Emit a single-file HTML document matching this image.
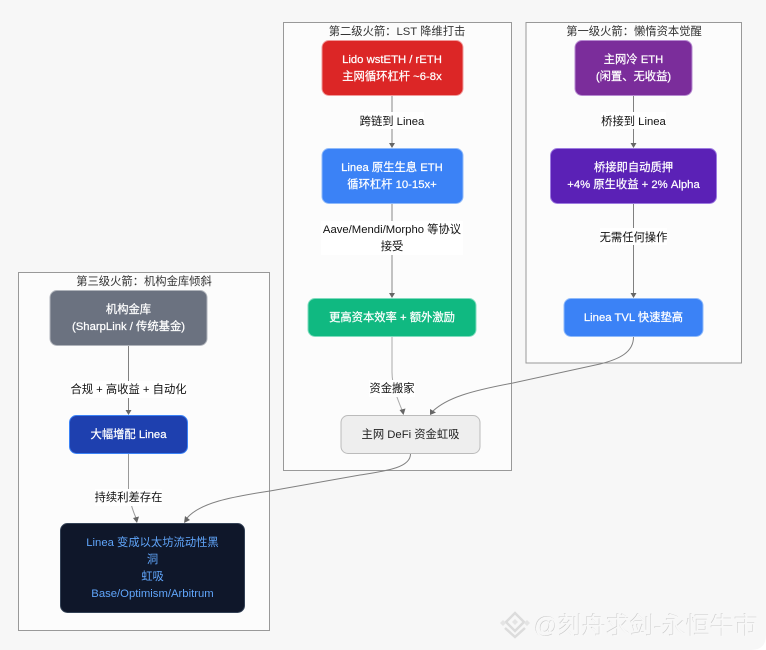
<!DOCTYPE html>
<html lang="zh">
<head>
<meta charset="utf-8">
<title>Linea</title>
<style>
html,body{margin:0;padding:0;background:#fff;width:766px;height:650px;overflow:hidden}
svg{display:block;position:absolute;left:0;top:0}
text{font-family:"Liberation Sans","Noto Sans CJK SC",sans-serif;font-size:11.3px;text-anchor:middle}
.t{fill:#333}
.w{fill:#fff;stroke:#fff;stroke-width:.22}
.l{fill:#111}
.c{fill:#fcfcfc;stroke:#999;stroke-width:1}
.e{fill:none;stroke:#808080;stroke-width:1}
.e2{fill:none;stroke:#c2c2c2;stroke-width:2}
.a{fill:#666}
.wm{font-size:24px;text-anchor:start}
</style>
</head>
<body>
<svg width="766" height="650" viewBox="0 0 766 650" xmlns="http://www.w3.org/2000/svg">
<path d="M0 0H766V635Q766 650 751 650H0Z" fill="#f7f7f7"/>

<rect class="c" x="283.5" y="22.5" width="228" height="448"/>
<rect class="c" x="526" y="22.5" width="215.5" height="340.5"/>
<rect class="c" x="18.5" y="272.5" width="251" height="358"/>

<text class="t" x="397" y="35">第二级火箭：LST 降维打击</text>
<text class="t" x="634" y="35">第一级火箭：懒惰资本觉醒</text>
<text class="t" x="144" y="285">第三级火箭：机构金库倾斜</text>

<path class="e2" d="M392 96V143"/>
<path class="e2" d="M392 203V293"/>
<path class="e" style="stroke:#aaa" d="M392 337V372C392 385 397 398 402 410"/>
<path class="e" d="M633.5 96V143"/>
<path class="e" d="M633.5 203V293"/>
<path class="e" d="M633.5 337C633.5 352 620 359 600 364L513 383C470 391 447 398 433 411"/>
<path class="e" d="M128.500 346V410"/>
<path class="e" style="stroke:#999" d="M128.500 454V489C129 500 133 511 136 518"/>
<path class="e" d="M410.500 454C410.500 468 385 471 360 475L270 491C230 497 200 503 187 518"/>

<path class="a" d="M389 143H395L392 148Z"/>
<path class="a" d="M389 293H395L392 298Z"/>
<path class="a" d="M399.500 410L405.500 408.500L403.500 415Z"/>
<path class="a" d="M630.500 143H636.500L633.500 148Z"/>
<path class="a" d="M630.500 293H636.500L633.500 298Z"/>
<path class="a" d="M430 409L436 412.500L430 415Z"/>
<path class="a" d="M125.500 410H131.500L128.500 415Z"/>
<path class="a" d="M133 518L139 516.500L137 523Z"/>
<path class="a" d="M185 516L190 520L184 523Z"/>

<rect x="322" y="40.500" width="141" height="55" rx="7" fill="#dc2626" stroke="#f09a9a"/>
<rect x="322" y="148.500" width="141" height="55" rx="7" fill="#3b82f6" stroke="#8fbafa"/>
<rect x="308" y="298.500" width="168" height="38" rx="7" fill="#10b981" stroke="#7fdcbe"/>
<rect x="341" y="415.500" width="139" height="38" rx="7" fill="#eee" stroke="#bbb"/>
<rect x="575" y="40.500" width="117" height="55" rx="7" fill="#7b2d9b" stroke="#b68ad0"/>
<rect x="550.500" y="148.500" width="166" height="55" rx="7" fill="#5b21b6" stroke="#9d7be0"/>
<rect x="564" y="298.500" width="139" height="38" rx="7" fill="#3b82f6" stroke="#8fbafa"/>
<rect x="50" y="290.500" width="157" height="55" rx="7" fill="#6b7280" stroke="#b0b4bb"/>
<rect x="69.500" y="415.500" width="118" height="38" rx="7" fill="#1e40af" stroke="#3b82f6"/>
<rect x="60.500" y="523.500" width="184" height="89" rx="7" fill="#0f172a" stroke="#334155"/>

<rect x="360" y="112" width="64" height="17" fill="#fff"/>
<text class="l" x="392" y="125">跨链到 Linea</text>
<rect x="321" y="221" width="142" height="34" fill="#fff"/>
<text class="l" x="392" y="233">Aave/Mendi/Morpho 等协议</text>
<text class="l" x="392" y="250">接受</text>
<rect x="369" y="380" width="46" height="17" fill="#fff"/>
<text class="l" x="392" y="392">资金搬家</text>
<rect x="601" y="112" width="65" height="17" fill="#fff"/>
<text class="l" x="633.500" y="125">桥接到 Linea</text>
<rect x="600" y="228" width="67" height="17" fill="#fff"/>
<text class="l" x="633.500" y="241">无需任何操作</text>
<rect x="71" y="381" width="115" height="17" fill="#fff"/>
<text class="l" x="128.500" y="393">合规 + 高收益 + 自动化</text>
<rect x="95" y="489" width="67" height="17" fill="#fff"/>
<text class="l" x="128.500" y="501">持续利差存在</text>

<text class="w" x="392" y="63">Lido wstETH / rETH</text>
<text class="w" x="392" y="80">主网循环杠杆 ~6-8x</text>
<text class="w" x="392" y="171">Linea 原生生息 ETH</text>
<text class="w" x="392" y="188">循环杠杆 10-15x+</text>
<text class="w" x="392" y="321">更高资本效率 + 额外激励</text>
<text x="410.500" y="438" fill="#222">主网 DeFi 资金虹吸</text>
<text class="w" x="633.500" y="63">主网冷 ETH</text>
<text class="w" x="633.500" y="80">(闲置、无收益)</text>
<text class="w" x="633.500" y="171">桥接即自动质押</text>
<text class="w" x="633.500" y="188">+4% 原生收益 + 2% Alpha</text>
<text class="w" x="633.500" y="321">Linea TVL 快速垫高</text>
<text class="w" x="128.500" y="313">机构金库</text>
<text class="w" x="128.500" y="330">(SharpLink / 传统基金)</text>
<text class="w" x="128.500" y="438">大幅增配 Linea</text>
<text x="152.500" y="546" fill="#60a5fa">Linea 变成以太坊流动性黑</text>
<text x="152.500" y="563" fill="#60a5fa">洞</text>
<text x="152.500" y="580" fill="#60a5fa">虹吸</text>
<text x="152.500" y="597" fill="#60a5fa">Base/Optimism/Arbitrum</text>

<g fill="none" stroke="#dcdcdc" stroke-width="2.5">
<path d="M515 613L524 622L515 631L506 622Z"/>
<path d="M505 628L515 637L525 628"/>
</g>
<g fill="#e4e4e4">
<path d="M515 619L518 622L515 625L512 622Z"/>
<path d="M503 620L506 623L503 626L500 623Z"/>
<path d="M527 620L530 623L527 626L524 623Z"/>
</g>
<g class="wm" fill="#c9c9c9">
<text class="wm" x="533.500" y="633.500">@</text>
<text class="wm" x="557.500" y="633.500">刻舟求剑-永恒牛市</text>
</g>
<g class="wm" fill="#f8f8f8">
<text class="wm" x="534" y="634">@</text>
<text class="wm" x="558" y="634">刻舟求剑-永恒牛市</text>
</g>
</svg>
</body>
</html>
